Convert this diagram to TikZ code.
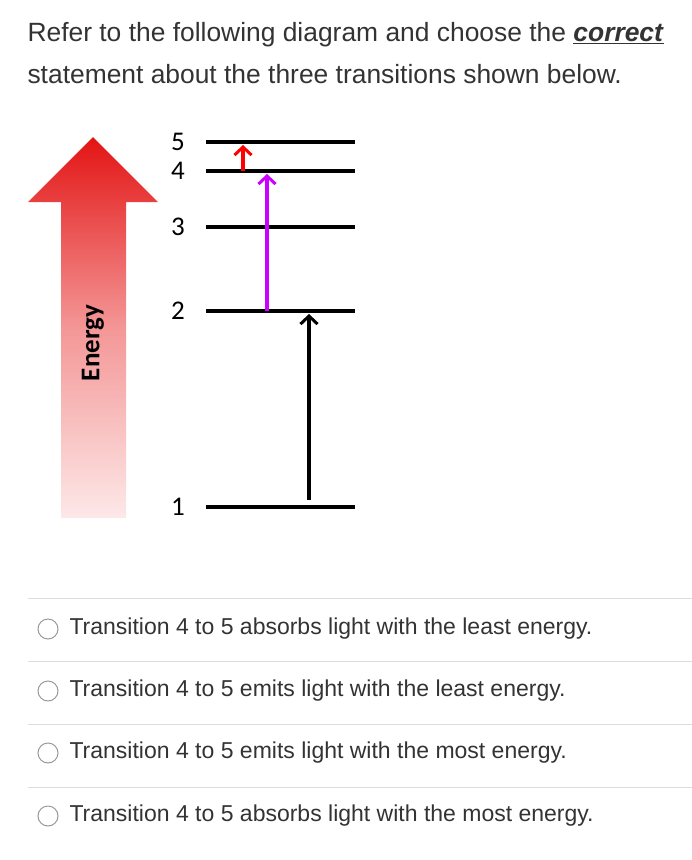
\documentclass[tikz,border=0pt]{standalone}
\usepackage{fontspec}
\setmainfont{Liberation Sans}
\newfontfamily\carl{Carlito}
\usetikzlibrary{arrows.meta}
\definecolor{txt}{HTML}{333333}
\definecolor{sep}{HTML}{DDDDDD}
\begin{document}
\begin{tikzpicture}[x=1pt,y=-1pt,
  lvl/.style={line width=3.5pt},
  trans/.style={line width=3.2pt,-{Straight Barb[length=8pt,width=17pt,line width=3pt]}},
  lab/.style={font=\carl\fontsize{27}{27}\selectfont,anchor=center},
  opt/.style={font=\fontsize{23}{25}\selectfont,text=txt,anchor=west},
  radio/.style={circle,draw=gray!80,line width=1pt,minimum size=20pt,inner sep=0pt}]
\useasboundingbox (0,0) rectangle (692,860);
\node[font=\fontsize{26.4}{28}\selectfont,text=txt,anchor=west] (t1) at (24,35) {Refer to the following diagram and choose the \underline{\textbf{\textit{correct}}}};
\node[font=\fontsize{26.4}{28}\selectfont,text=txt,anchor=west] (t2) at (24,74) {statement about the three transitions shown below.};
% energy arrow
\shade[top color={rgb,255:red,227;green,20;blue,20},bottom color={rgb,255:red,253;green,232;blue,232},middle color={rgb,255:red,244;green,150;blue,150}]
  (61,518) -- (61,202) -- (28,202) -- (93,137) -- (158,202) -- (126,202) -- (126,518) -- cycle;
\node[font=\carl\bfseries\fontsize{27}{27}\selectfont,rotate=90] (en) at (93,343) {Energy};
% levels
\foreach \n/\y in {5/142,4/171,3/227,2/311,1/507}{
  \coordinate (L\n a) at (206,\y);
  \coordinate (L\n b) at (355,\y);
  \draw[lvl] (L\n a) -- (L\n b);
  \node[lab] (N\n) at (178,\y) {\n};
}
\coordinate (r0) at (243,171); \coordinate (r1) at (243,145);
\coordinate (m0) at (267,311); \coordinate (m1) at (267,174);
\coordinate (b0) at (309,500); \coordinate (b1) at (309,314);
\draw[trans,red] (r0) -- (r1);
\draw[trans,color={rgb,255:red,204;green,0;blue,255}] (m0) -- (m1);
\draw[trans,black] (b0) -- (b1);
% options
\foreach \y in {598,661,724,787}{
  \coordinate (s\y a) at (28,\y); \coordinate (s\y b) at (692,\y);
  \draw[sep,line width=1pt] (s\y a) -- (s\y b);
}
\node[radio] (c1) at (48,629) {}; \node[opt] (o1) at (66,629) {Transition 4 to 5 absorbs light with the least energy.};
\node[radio] (c2) at (48,691) {}; \node[opt] (o2) at (66,691) {Transition 4 to 5 emits light with the least energy.};
\node[radio] (c3) at (48,753) {}; \node[opt] (o3) at (66,753) {Transition 4 to 5 emits light with the most energy.};
\node[radio] (c4) at (48,816) {}; \node[opt] (o4) at (66,816) {Transition 4 to 5 absorbs light with the most energy.};
\end{tikzpicture}
\end{document}
